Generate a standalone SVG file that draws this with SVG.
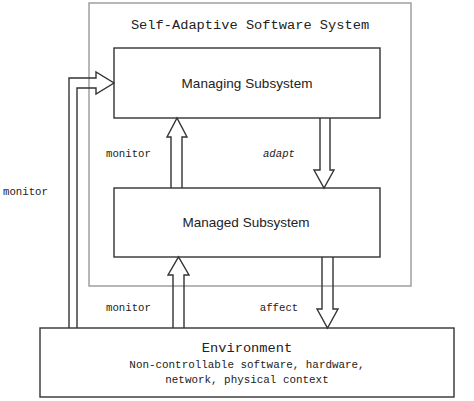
<svg xmlns="http://www.w3.org/2000/svg" width="474" height="401" viewBox="0 0 474 401">
<style>
.box{fill:#fff;stroke:#333;stroke-width:1.4}
.sys{fill:none;stroke:#999;stroke-width:1.4}
.arr{fill:none;stroke:#333;stroke-width:1.4;stroke-linejoin:miter}
.mono{font-family:"Liberation Mono","DejaVu Sans Mono",monospace;fill:#222}
.sans{font-family:"Liberation Sans",Arial,sans-serif;fill:#222}
</style>
<rect width="474" height="401" fill="#fff"/>
<g id="system">
<rect class="sys" x="89" y="3" width="322" height="283"/>
<text class="mono" x="250" y="29" font-size="13.7" text-anchor="middle">Self-Adaptive Software System</text>
</g>
<g id="managing">
<rect class="box" x="114" y="48" width="266" height="70"/>
<text class="sans" x="247" y="88" font-size="13.5" text-anchor="middle" textLength="131">Managing Subsystem</text>
</g>
<g id="managed">
<rect class="box" x="114" y="188" width="266" height="69"/>
<text class="sans" x="246" y="227" font-size="13.5" text-anchor="middle" textLength="127">Managed Subsystem</text>
</g>
<g id="environment">
<rect class="box" x="40" y="328" width="414" height="69"/>
<text class="mono" x="247" y="352" font-size="13.7" text-anchor="middle">Environment</text>
<text class="mono" x="247" y="368" font-size="10.9" text-anchor="middle">Non-controllable software, hardware,</text>
<text class="mono" x="247" y="383" font-size="10.9" text-anchor="middle">network, physical context</text>
</g>
<g id="connectors">
<path class="arr" d="M171,188 V137 H167 L177,118 L187,137 H182 V188"/>
<path class="arr" d="M320,118 V170 H314 L324,188 L334,170 H330 V118"/>
<path class="arr" d="M173,328 V275 H168 L178.5,257 L189,275 H184 V328"/>
<path class="arr" d="M322,257 V309 H317 L327.5,328 L338,309 H333 V257"/>
<path class="arr" d="M69,328 V78 H96 V72 L114,83 L96,94 V88 H77 V328"/>
<text class="mono" x="3" y="195" font-size="10.7">monitor</text>
<text class="mono" x="128.5" y="157" font-size="10.7" text-anchor="middle">monitor</text>
<text class="mono" x="279" y="157" font-size="10.7" text-anchor="middle" font-style="italic">adapt</text>
<text class="mono" x="128.5" y="311" font-size="10.7" text-anchor="middle">monitor</text>
<text class="mono" x="279" y="311" font-size="10.7" text-anchor="middle">affect</text>
</g>
</svg>
